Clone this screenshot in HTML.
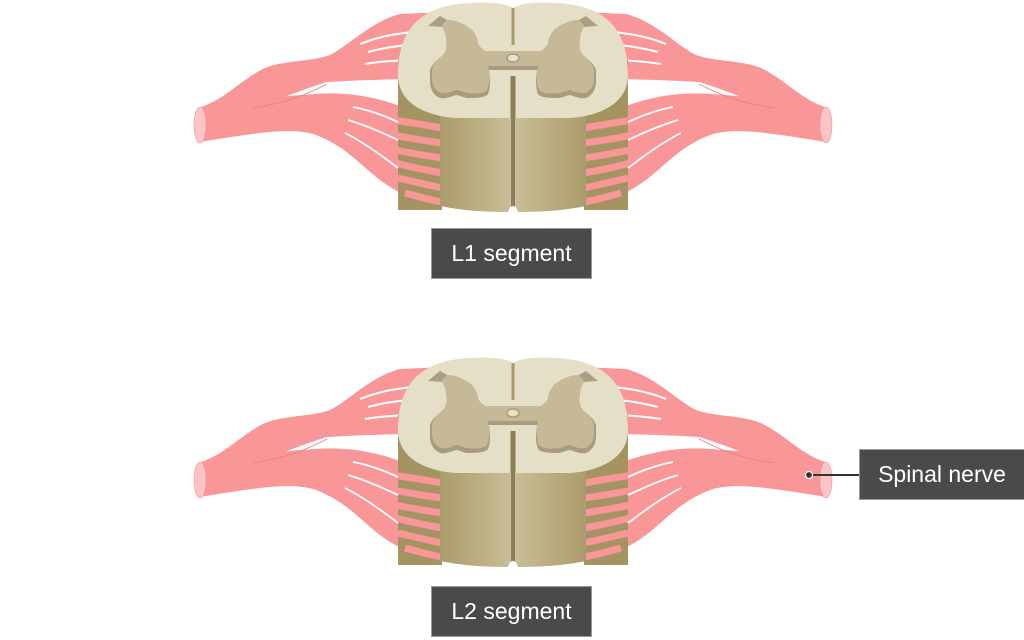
<!DOCTYPE html>
<html><head><meta charset="utf-8"><style>
html,body{margin:0;padding:0;background:#fff;width:1024px;height:640px;overflow:hidden}
svg{display:block}
.lbl{position:absolute;background:#4a4a4a;color:#fff;font-family:"Liberation Sans",sans-serif;font-size:23px;display:flex;align-items:center;justify-content:center;border:1px solid #999;box-sizing:border-box}
</style></head><body>
<svg width="1024" height="640" viewBox="0 0 1024 640" style="position:absolute;left:0;top:0">
<defs>
<linearGradient id="fr" x1="0" x2="1"><stop offset="0" stop-color="#ab9c6c"/><stop offset="1" stop-color="#c8bd94"/></linearGradient>
<g id="half">
  <path d="M198,108 C225,100 240,80 265,68 C285,60 310,62 330,55 C350,45 370,22 400,14 L445,12 L445,80 C410,78 360,80 327,82 C300,90 280,100 252,108 Z" fill="#f89698"/>
  <path d="M198,108 C240,108 270,96 303,95 C330,92 360,92 397,105 L440,116 L440,206 C420,202 400,195 380,180 C360,165 345,145 313,134 C290,128 260,132 200,142 Z" fill="#f89698"/>
  <path d="M252,108 C280,104 300,98 327,84" stroke="#e57f82" stroke-width="0.8" fill="none"/>
  <g stroke="#fff" stroke-width="2" fill="none">
    <path d="M360,44 C380,36 400,32 440,30"/>
    <path d="M368,52 C390,46 410,44 440,44"/>
    <path d="M365,64 C390,60 410,60 440,60"/>
  </g>
  <rect x="398" y="60" width="44" height="150" fill="#a39462"/>
  <g fill="none" stroke="#f89698" stroke-width="7">
    <path d="M380,118 C400,121 420,124 442,128"/>
    <path d="M380,132 C400,137 420,140 442,143"/>
    <path d="M385,148 C405,152 420,155 442,158"/>
    <path d="M392,162 C410,167 425,170 442,173"/>
    <path d="M398,178 C415,182 428,185 442,188"/>
    <path d="M405,193 C420,197 430,200 442,202"/>
  </g>
  <g stroke="#fff" stroke-width="1.8" fill="none">
    <path d="M353,107 C370,110 385,116 398,122"/>
    <path d="M348,120 C368,126 385,134 398,140"/>
    <path d="M345,133 C365,143 385,158 398,168"/>
  </g>
  <path d="M440,100 L510,100 L510,212 C480,212 460,210 440,206 Z" fill="url(#fr)"/>
  <path d="M398,75 C398,25 425,5 470,3 C490,2 505,3 513,8 L513,118 L455,118 C420,115 398,100 398,75 Z" fill="#e5dfc8"/>
  <path d="M428,26 L440,16 L447,20 L443,27 Z" fill="#ab9e82"/>
  <!-- shadow -->
  <path d="M442,25 L447,20 C455,20 465,24 472,30 C476,35 478,40 478,44 C480,47 482,49 485,51 L513,51 L513,70 L489,70 C490,78 491,86 488,94 C485,98 475,98 467,98 C462,97 458,95 456,95 C450,97 445,99 440,98 C433,95 430,88 430,82 L430,70 C432,64 437,60 442,56 C447,52 447,45 446,38 C446,32 442,28 442,25 Z" fill="#a89b80"/>
  <!-- grey matter -->
  <path d="M442,25 L447,20 C455,20 465,24 472,30 C476,35 478,40 478,44 C480,47 482,49 485,51 L513,51 L513,66 L488,66 C490,74 490,82 487,90 C484,94 475,94 467,93 C462,92 459,90 456,90 C451,92 446,94 441,93 C435,91 432,85 432,78 L432,70 C433,64 437,60 442,56 C447,52 447,45 446,38 C446,32 442,28 442,25 Z" fill="#c6b998"/>
  <path d="M513,8 L513,45" stroke="#a89a6c" stroke-width="3"/>
  <path d="M513,76 L513,212" stroke="#8e8055" stroke-width="5"/>
</g>
<g id="seg">
  <use href="#half"/>
  <use href="#half" transform="translate(1026,0) scale(-1,1)"/>
  <ellipse cx="200" cy="125" rx="6" ry="18" fill="#fcc4c6" stroke="#e89a9c" stroke-width="0.6"/>
  <ellipse cx="826" cy="125" rx="6" ry="18" fill="#fcc4c6" stroke="#e89a9c" stroke-width="0.6"/>
  <ellipse cx="513" cy="58" rx="6" ry="4" fill="#e8e2cc" stroke="#a89b80" stroke-width="1.5"/>
  <path d="M508,212 C510,204 516,204 518,212 Z" fill="#fff"/>
</g>
</defs>
<use href="#seg"/>
<use href="#seg" transform="translate(0,355)"/>
<line x1="809" y1="475" x2="859" y2="475" stroke="#333" stroke-width="2"/>
<circle cx="809" cy="475" r="3.5" fill="#333" stroke="#fff" stroke-width="1.2"/>
</svg>
<div class="lbl" style="left:431px;top:228px;width:161px;height:51px">L1 segment</div>
<div class="lbl" style="left:431px;top:586px;width:161px;height:51px">L2 segment</div>
<div class="lbl" style="left:859px;top:449px;width:166px;height:51px">Spinal nerve</div>
</body></html>
